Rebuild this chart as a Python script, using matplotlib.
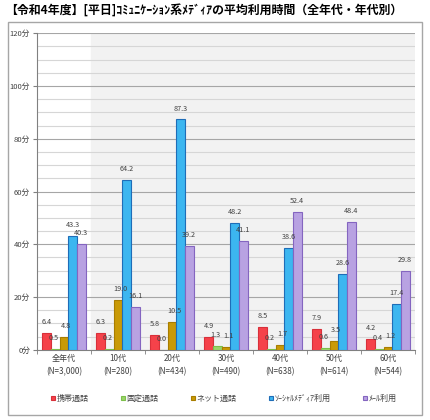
import matplotlib.pyplot as plt
import numpy as np
from matplotlib.patches import Rectangle

plt.rcParams['font.family'] = ['Noto Sans CJK JP', 'DejaVu Sans']

title = "【令和4年度】[平日]ｺﾐｭﾆｹｰｼｮﾝ系ﾒﾃﾞｨｱの平均利用時間（全年代・年代別）"
groups = ["全年代", "10代", "20代", "30代", "40代", "50代", "60代"]
sizes = ["(N=3,000)", "(N=280)", "(N=434)", "(N=490)", "(N=638)", "(N=614)", "(N=544)"]
series = ["携帯通話", "固定通話", "ネット通話", "ｿｰｼｬﾙﾒﾃﾞｨｱ利用", "ﾒｰﾙ利用"]

mobile = [6.4, 6.3, 5.8, 4.9, 8.5, 7.9, 4.2]
fixed = [0.5, 0.2, 0.0, 1.3, 0.2, 0.6, 0.4]
net = [4.8, 19.0, 10.5, 1.1, 1.7, 3.5, 1.2]
social = [43.3, 64.2, 87.3, 48.2, 38.6, 28.6, 17.4]
mail = [40.3, 16.1, 39.2, 41.1, 52.4, 48.4, 29.8]

values = [mobile, fixed, net, social, mail]
colors = ["#f5424a", "#9ad46a", "#c99a06", "#3cb6f0", "#b8a2e2"]
edges = ["#d8303a", "#7cbf4a", "#a87d00", "#1e6db8", "#8465c0"]
# small horizontal nudge of the value labels (points) so close ones don't collide
nudge = [0, -1.5, 1.5, 0, 0]

fig = plt.figure(figsize=(4.3, 4.2), dpi=100)
fig.patches.append(Rectangle((8 / 430, 1 - 415 / 420), 414 / 430, 393 / 420,
                             transform=fig.transFigure, fill=False,
                             edgecolor="#a6a6a6", linewidth=1))
fig.text(0.012, 0.975, title, fontsize=8.6, fontweight="bold", va="center", ha="left")

ax = fig.add_axes([0.086, 0.167, 0.879, 0.754])
x = np.arange(len(groups))
w = 0.16

ax.set_xlim(-0.5, len(groups) - 0.5)
ax.set_ylim(0, 120)
ax.axvspan(0.5, len(groups) - 0.5, color="#f2f2f2", zorder=0)

for v in range(0, 121, 5):
    if v % 20 == 0:
        ax.axhline(v, color="#a6a6a6", lw=0.8, zorder=1)
    else:
        ax.axhline(v, color="#d6d6d6", lw=0.8, zorder=1)

for i, (vals, c, e) in enumerate(zip(values, colors, edges)):
    pos = x + (i - 2) * w
    ax.bar(pos, vals, width=w, color=c, edgecolor=e, linewidth=0.8, zorder=3, label=series[i])
    for p, v in zip(pos, vals):
        ax.annotate(f"{v:.1f}", (p, v), xytext=(nudge[i], 5), textcoords="offset points",
                    ha="center", va="bottom", fontsize=5.2, color="#404040", zorder=4)

ax.set_yticks(range(0, 121, 20))
ax.set_yticklabels([f"{v}分" for v in range(0, 121, 20)], fontsize=5.5, color="#404040")
ax.set_xticks(x)
ax.set_xticklabels([f"{g}\n{s}" for g, s in zip(groups, sizes)], fontsize=5.8,
                   color="#404040", linespacing=1.6)
ax.set_xticks(np.arange(-0.5, len(groups), 1), minor=True)
ax.tick_params(axis="x", which="major", length=0, pad=3)
ax.tick_params(axis="x", which="minor", length=3, color="#808080")
ax.tick_params(axis="y", length=3, color="#808080", pad=2)
for s in ["top", "right"]:
    ax.spines[s].set_visible(False)
ax.spines["left"].set_color("#808080")
ax.spines["bottom"].set_color("#808080")

leg = fig.legend(loc="center", bbox_to_anchor=(0.52, 0.052), ncol=5, frameon=False,
                 fontsize=5.8, handlelength=0.5, handleheight=0.5, handletextpad=0.2,
                 columnspacing=4.0)
for t in leg.get_texts():
    t.set_color("#404040")

fig.savefig("out.png", dpi=100)
